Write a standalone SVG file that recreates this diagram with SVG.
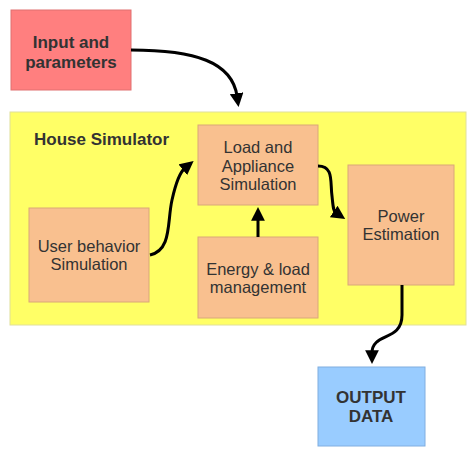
<svg xmlns="http://www.w3.org/2000/svg" width="474" height="457" viewBox="0 0 474 457">
<defs>
<style>
text{font-family:"Liberation Sans",Arial,sans-serif;fill:#333;text-anchor:middle}
.b{font-weight:bold;font-size:17px}
.r{font-size:16.5px}
.box{fill:#f9c08f;stroke:#d9a878;stroke-width:1}
.c{fill:none;stroke:#000;stroke-width:3;marker-end:url(#ah)}
</style>
<marker id="ah" viewBox="0 0 10 10" refX="2" refY="5" markerWidth="4.6" markerHeight="4.6" orient="auto" markerUnits="strokeWidth">
<path d="M0,0 L10,5 L0,10 z" fill="#000"/>
</marker>
</defs>
<g id="house">
<rect x="10" y="112" width="456" height="213" fill="#ffff66" stroke="#e0e09a" stroke-width="1"/>
<text x="34" y="145" class="b" style="text-anchor:start">House Simulator</text>
</g>
<g id="input">
<rect x="11" y="10" width="120" height="80" fill="#ff7f7f" stroke="#e07070" stroke-width="1"/>
<text x="71" y="48" class="b">Input and</text>
<text x="71" y="68" class="b">parameters</text>
</g>
<g id="load">
<rect x="198" y="125" width="120" height="80" class="box"/>
<text x="258" y="153" class="r">Load and</text>
<text x="258" y="172" class="r">Appliance</text>
<text x="258" y="190" class="r">Simulation</text>
</g>
<g id="user">
<rect x="29" y="208" width="120" height="94" class="box"/>
<text x="89" y="252" class="r">User behavior</text>
<text x="89" y="270" class="r">Simulation</text>
</g>
<g id="energy">
<rect x="198" y="237" width="120" height="81" class="box"/>
<text x="258" y="275" class="r">Energy &amp; load</text>
<text x="258" y="293" class="r">management</text>
</g>
<g id="power">
<rect x="348" y="165" width="106" height="120" class="box"/>
<text x="401" y="222" class="r">Power</text>
<text x="401" y="240" class="r">Estimation</text>
</g>
<g id="output">
<rect x="318" y="367" width="107" height="79" fill="#99ccff" stroke="#80aee0" stroke-width="1"/>
<text x="371" y="403" class="b">OUTPUT</text>
<text x="371" y="422" class="b">DATA</text>
</g>
<g id="connectors">
<path class="c" d="M131,50 C195,50 232,62 237,96"/>
<path class="c" d="M150,255 C172,250 167,222 172,200 C176,182 180,172 185,168"/>
<path class="c" d="M258,237 L258,218"/>
<path class="c" d="M318,166 C334,166 330,182 332,196 C333,205 333,211 336,213"/>
<path class="c" d="M402,285 L402,315 C402,342 372,332 372,353"/>
</g>
</svg>
